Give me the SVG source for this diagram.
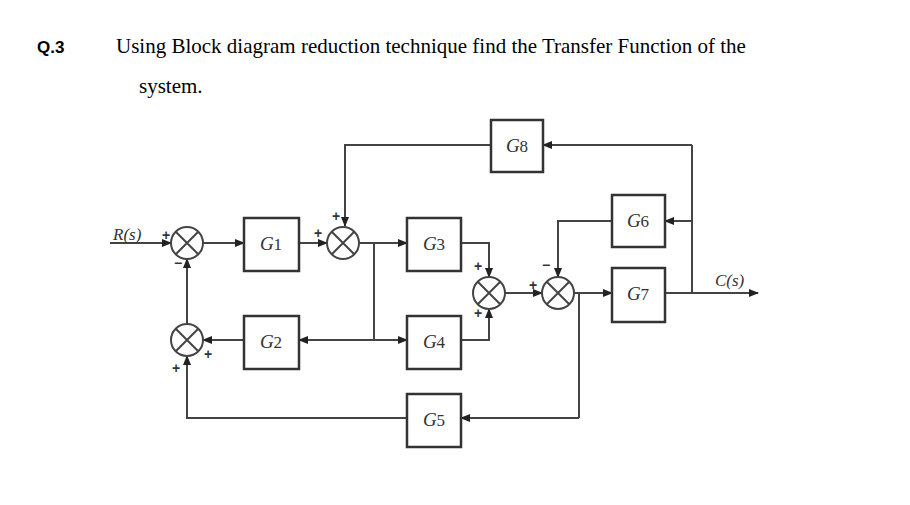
<svg xmlns="http://www.w3.org/2000/svg" width="910" height="505" viewBox="0 0 910 505">
<style>
.b{fill:#fff;stroke:#333;stroke-width:2.5}
.l{fill:none;stroke:#444;stroke-width:2;marker-end:url(#a)}
.n{fill:none;stroke:#444;stroke-width:2}
.s{fill:#fff;stroke:#444;stroke-width:2}
.g{font-family:"Liberation Serif",serif;font-style:italic;font-size:19px;fill:#333;text-anchor:middle}
.p{font-family:"Liberation Sans",sans-serif;font-size:14px;font-weight:bold;fill:#333;text-anchor:middle}
</style>
<defs>
<marker id="a" markerWidth="10" markerHeight="8" refX="9" refY="4" orient="auto" markerUnits="userSpaceOnUse"><path d="M0,0 L10,4 L0,8z" fill="#222"/></marker>
<symbol id="x" overflow="visible"><circle r="16" class="s"/><path d="M-11,-11 L11,11 M-11,11 L11,-11" class="n"/></symbol>
</defs>
<rect width="910" height="505" fill="#fff"/>
<text x="37" y="53" font-family="Liberation Sans,sans-serif" font-weight="bold" font-size="17">Q.3</text>
<text x="116" y="53" font-family="Liberation Serif,serif" font-size="21">Using Block diagram reduction technique find the Transfer Function of the</text>
<text x="139" y="93" font-family="Liberation Serif,serif" font-size="21">system.</text>
<g id="connectors">
<path class="l" d="M110,243 H171"/>
<path class="l" d="M203,243 H244"/>
<path class="l" d="M299,243 H327"/>
<path class="l" d="M359,243 H407"/>
<path class="n" d="M374,243 V340"/>
<path class="l" d="M374,340 H407"/>
<path class="l" d="M374,340 H299"/>
<path class="l" d="M244,340 H203"/>
<path class="l" d="M187,324 V259"/>
<path class="l" d="M461,243 H489 V277"/>
<path class="l" d="M461,340 H489 V309"/>
<path class="l" d="M505,293 H542"/>
<path class="l" d="M574,293 H612"/>
<path class="n" d="M665,293 H692"/>
<path class="l" d="M692,293 H758"/>
<path class="n" d="M692,293 V145"/>
<path class="l" d="M692,145 H543"/>
<path class="l" d="M692,221 H665"/>
<path class="l" d="M612,221 H558 V277"/>
<path class="l" d="M491,145 H345 V226"/>
<path class="n" d="M579,293 V418"/>
<path class="l" d="M579,418 H461"/>
<path class="l" d="M407,418 H187 V356"/>
</g>
<g id="sum1"><use href="#x" x="187" y="243"/><text class="p" x="166" y="240">+</text><text class="p" x="178" y="268">−</text></g>
<g id="sum2"><use href="#x" x="343" y="243"/><text class="p" x="318" y="238">+</text><text class="p" x="336" y="221">+</text></g>
<g id="sum3"><use href="#x" x="489" y="293"/><text class="p" x="478" y="271">+</text><text class="p" x="478" y="318">+</text></g>
<g id="sum4"><use href="#x" x="187" y="340"/><text class="p" x="208" y="359">+</text><text class="p" x="176" y="373">+</text></g>
<g id="sum5"><use href="#x" x="558" y="293"/><text class="p" x="533" y="290">+</text><text class="p" x="546" y="270">−</text></g>
<g id="G1"><rect class="b" x="244" y="218" width="55" height="53"/><text class="g" x="271" y="250">G<tspan font-style="normal" font-size="17">1</tspan></text></g>
<g id="G2"><rect class="b" x="244" y="316" width="55" height="53"/><text class="g" x="271" y="348">G<tspan font-style="normal" font-size="17">2</tspan></text></g>
<g id="G3"><rect class="b" x="407" y="218" width="54" height="53"/><text class="g" x="434" y="250">G<tspan font-style="normal" font-size="17">3</tspan></text></g>
<g id="G4"><rect class="b" x="407" y="316" width="54" height="53"/><text class="g" x="434" y="348">G<tspan font-style="normal" font-size="17">4</tspan></text></g>
<g id="G5"><rect class="b" x="407" y="394" width="54" height="53"/><text class="g" x="434" y="426">G<tspan font-style="normal" font-size="17">5</tspan></text></g>
<g id="G6"><rect class="b" x="612" y="195" width="53" height="52"/><text class="g" x="638" y="227">G<tspan font-style="normal" font-size="17">6</tspan></text></g>
<g id="G7"><rect class="b" x="612" y="268" width="53" height="54"/><text class="g" x="638" y="300">G<tspan font-style="normal" font-size="17">7</tspan></text></g>
<g id="G8"><rect class="b" x="491" y="120" width="52" height="52"/><text class="g" x="517" y="152">G<tspan font-style="normal" font-size="17">8</tspan></text></g>
<text x="113" y="240" font-family="Liberation Serif,serif" font-style="italic" font-size="17" fill="#333">R(s)</text>
<text x="715" y="286" font-family="Liberation Serif,serif" font-style="italic" font-size="17" fill="#333">C(s)</text>
</svg>
